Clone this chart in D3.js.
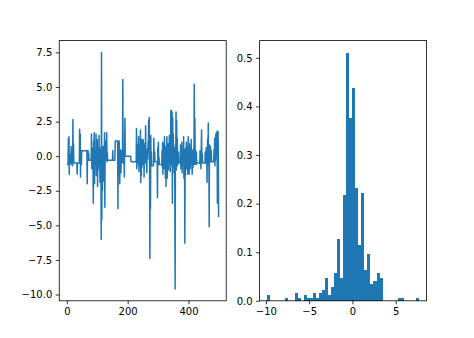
<!DOCTYPE html>
<meta charset="utf-8">
<script src="https://d3js.org/d3.v7.min.js"></script>
<style>
  body { margin: 0; background: #fff; }
  text { font-family: "DejaVu Sans", sans-serif; }
</style>
<div id="chart"></div>
<script>
// left panel: sampled signal, [index, value]
var signal = [
  [0,-0.6],[4,-0.6],[5,1.3],[6,-0.2],[7,1.4],[8,-1.3],[9,0.1],[12,0.1],[13,-0.5],[14,0.7],[15,-0.6],[17,-0.6],
  [18,0.2],[19,-0.7],[20,2.65],[21,-0.2],[22,0.9],[23,-0.5],[33,-0.5],[34,-1.3],[35,-0.5],[41,-0.5],[42,1.95],
  [43,-0.2],[44,1.6],[45,-1.5],[46,0.4],[47,0.4],[48,-0.6],[49,0.4],[66,0.4],[67,-2.0],[68,0.4],[70,0.4],
  [71,-0.3],[72,0.2],[73,-0.3],[80,-0.3],
  [81,1.6],[82,-0.9],[83,0.6],[84,-0.6],[86,-0.6],[87,-3.4],[88,1.1],[89,-0.4],[90,1.7],[91,-2.0],[92,0.3],
  [93,-0.6],[95,-0.6],[96,1.6],[97,-1.4],[98,0.8],[99,-0.5],[100,1.2],[101,-2.2],[102,0.5],[103,-1.0],[104,0.6],
  [105,-0.3],[106,1.5],[107,-0.7],[108,0.3],[109,-1.9],[110,0.5],[111,-0.8],[112,0.6],[113,-6.0],[114,7.5],
  [115,-4.6],[116,0.7],[117,-2.5],[118,0.3],[119,-0.8],[120,0.7],[121,-1.8],[122,0.1],[123,-0.3],[124,1.7],
  [125,-3.7],[126,1.1],[127,-0.3],[128,0.1],[130,0.1],
  [131,1.7],[132,-0.4],[133,0.3],[134,-0.3],[150,-0.3],[151,0.4],[152,-0.3],[158,-0.3],[159,1.1],[167,1.1],
  [168,-3.8],[169,1.1],[172,1.1],[173,-0.3],[174,-2.0],[175,0.5],[176,-0.4],[177,0.2],[178,-1.2],[179,0.4],
  [180,-0.5],[181,0.1],[182,-0.4],[183,0.0],[184,5.55],[185,-0.5],[186,0.3],[187,-0.4],[188,0.2],[189,-1.5],
  [190,0.5],[191,2.75],[192,0.0],[210,0.0],[211,-0.4],[228,-0.4],
  [229,2.0],[230,-0.9],[231,0.3],[232,-0.5],[233,0.8],[234,-0.2],[235,-0.2],[236,1.4],[237,-1.1],[238,0.4],
  [239,-0.7],[240,0.6],[241,-0.4],[242,1.9],[243,-1.9],[244,0.5],[245,-1.4],[246,1.2],[247,-0.8],[248,0.2],
  [249,-0.6],[250,-0.6],[251,1.2],[252,-0.1],[253,0.6],[254,-1.5],[255,0.9],[256,-0.5],[257,0.8],[258,-0.3],
  [259,2.2],[260,-0.5],[261,-0.5],[262,0.4],[263,-1.2],[264,0.5],[265,-0.2],[266,-0.2],[267,1.0],[268,0.6],
  [269,2.6],[270,0.3],[271,2.8],[272,-0.6],[273,-7.4],[274,0.5],[275,-3.8],[276,1.5],[277,-0.7],[278,0.3],
  [279,-0.7],[285,-0.7],[286,1.3],[287,-0.2],[288,0.3],[289,0.3],[290,-0.4],[297,-0.4],[298,-3.0],[299,0.6],
  [300,-0.5],
  [301,1.0],[302,-0.6],[303,-0.1],[304,-0.6],[312,-0.6],[313,0.4],[314,-0.8],[315,1.0],[316,-1.3],[317,0.6],
  [318,-0.3],[319,0.9],[320,-0.9],[321,1.4],[322,-0.5],[323,0.1],[324,-1.6],[325,0.7],[326,-2.2],[327,0.5],
  [328,-0.4],[329,1.4],[330,-1.6],[331,0.4],[332,-0.6],[333,0.9],[334,-1.0],[335,0.2],[336,-0.3],[337,1.5],
  [338,-0.5],[339,0.6],[340,-1.1],[341,0.3],[342,3.3],[343,-0.6],[344,3.3],[345,0.9],[346,3.2],[347,-3.4],
  [348,2.8],[349,0.2],[350,1.6],[351,-0.8],[352,0.4],[353,-1.2],[354,0.6],[355,-2.3],[356,-9.6],[357,0.8],
  [358,-0.3],[359,3.2],[360,-1.0],[361,2.6],[362,0.1],[363,1.3],[364,-0.7],
  [365,0.3],[366,-0.2],[367,0.3],[368,-0.5],[373,-0.5],[374,0.8],[375,-0.9],[376,0.2],[377,-0.5],[378,1.0],
  [379,-1.2],[380,0.3],[381,-0.6],[382,0.5],[383,-0.4],[384,1.4],[385,-1.6],[386,0.3],[387,-0.2],[388,-6.3],
  [389,0.5],[390,-1.4],[391,0.6],[392,-0.3],[393,1.0],[394,-0.9],[395,0.2],[396,-0.5],[397,0.7],[398,-1.3],
  [399,1.4],[400,-0.4],[401,0.2],[402,-1.3],[403,0.9],[404,-0.3],[405,0.6],[406,-0.9],[407,0.1],[408,-0.5],
  [409,1.2],[410,-0.5],[411,0.3],[412,-1.3],[413,-0.5],[414,0.4],[415,-0.8],[416,0.5],[417,-0.3],[418,0.2],
  [419,5.2],[420,-0.6],[421,2.7],[422,-0.4],[423,0.4],[424,-0.6],[425,-0.6],[426,0.3],[427,-0.5],[437,-0.5],
  [438,0.4],[439,-0.6],[440,0.2],[441,-0.9],[442,0.5],[443,1.9],[444,-0.3],[445,0.2],[446,-0.5],[454,-0.5],
  [455,0.3],[456,-0.5],[457,-0.5],[458,0.6],[459,-0.3],[460,0.3],[461,-1.9],[462,0.5],[463,1.3],[464,-0.6],
  [465,2.4],[466,-0.6],[467,0.7],[468,-5.1],[469,0.8],[470,0.6],[471,-0.3],[472,0.7],[473,-0.4],[474,-0.4],
  [475,0.4],[476,-0.4],[483,-0.4],[484,0.5],[485,-0.2],[486,1.3],[487,-0.7],[488,1.0],[489,-0.3],[490,1.6],
  [491,0.4],[492,1.7],[493,0.1],[494,1.8],[495,-3.4],[496,1.2],[497,1.8],[498,0.6],[499,-4.4]
];
var nSamples = 500;

// right panel: 50-bin density histogram of the same signal
var histMin = -9.85, histMax = 7.69;
var histDensity = [
  0.011, 0, 0, 0, 0, 0, 0.0057, 0, 0, 0.017,
  0.0057, 0, 0.011, 0.0057, 0.0057, 0.017, 0.0057, 0.017, 0.023, 0.046,
  0.011, 0.028, 0.057, 0.128, 0.046, 0.217, 0.510, 0.376, 0.438, 0.233,
  0.115, 0.222, 0.063, 0.097, 0.034, 0.040, 0.057, 0.046, 0, 0,
  0, 0, 0, 0.0057, 0.0057, 0, 0, 0, 0, 0.0057
];

var leftTicksX = [0, 200, 400];
var leftTicksY = [-10, -7.5, -5, -2.5, 0, 2.5, 5, 7.5];
var rightTicksX = [-10, -5, 0, 5];
var rightTicksY = [0, 0.1, 0.2, 0.3, 0.4, 0.5];

var W = 474, H = 338;
var color = "#1f77b4";
var plotTop = 40.6, plotBottom = 300.8;
var panels = [[59.25, 226.2], [259.6, 426.6]];

var svg = d3.select("#chart").append("svg")
  .attr("width", W).attr("height", H);

var fmtMinus = function (s) { return s.replace(/-/g, "\u2212"); };

function pad(ext) {
  var r = ext[1] - ext[0];
  return [ext[0] - 0.05 * r, ext[1] + 0.05 * r];
}

function drawAxes(g, x, y, xt, yt, xf, yf, x0, x1) {
  var xa = g.append("g").attr("transform", "translate(0," + plotBottom + ")")
    .call(d3.axisBottom(x).tickValues(xt).tickSize(3.5).tickPadding(3.5).tickFormat(xf));
  var ya = g.append("g").attr("transform", "translate(" + x0 + ",0)")
    .call(d3.axisLeft(y).tickValues(yt).tickSize(3.5).tickPadding(3.5).tickFormat(yf));
  [xa, ya].forEach(function (a) {
    a.select(".domain").remove();
    a.selectAll("line").attr("stroke", "#000").attr("stroke-width", 0.8);
    a.selectAll("text").attr("fill", "#000").style("font-size", "10px");
  });
  g.append("rect")
    .attr("x", x0).attr("y", plotTop)
    .attr("width", x1 - x0).attr("height", plotBottom - plotTop)
    .attr("fill", "none").attr("stroke", "#000").attr("stroke-width", 0.8);
}

// ---- left: line plot
var xL = d3.scaleLinear().domain(pad([0, nSamples - 1])).range(panels[0]);
var yL = d3.scaleLinear().domain(pad(d3.extent(signal, d => d[1]))).range([plotBottom, plotTop]);

var gL = svg.append("g");
gL.append("path")
  .datum(signal)
  .attr("fill", "none")
  .attr("stroke", color)
  .attr("stroke-width", 1.5)
  .attr("stroke-linejoin", "round")
  .attr("d", d3.line().x(d => xL(d[0])).y(d => yL(d[1])));
drawAxes(gL, xL, yL, leftTicksX, leftTicksY,
  d3.format("d"), d => fmtMinus(d3.format(".1f")(d)), panels[0][0], panels[0][1]);

// ---- right: histogram
var binW = (histMax - histMin) / histDensity.length;
var bins = histDensity.map(function (v, i) {
  return { x0: histMin + i * binW, x1: histMin + (i + 1) * binW, v: v };
});
var xR = d3.scaleLinear().domain(pad([histMin, histMax])).range(panels[1]);
var yR = d3.scaleLinear().domain([0, d3.max(histDensity) * 1.05]).range([plotBottom, plotTop]);

var gR = svg.append("g").attr("shape-rendering", "crispEdges");
gR.selectAll("rect.bar")
  .data(bins.filter(b => b.v > 0))
  .enter().append("rect")
  .attr("class", "bar")
  .attr("x", d => xR(d.x0))
  .attr("width", d => xR(d.x1) - xR(d.x0))
  .attr("y", d => yR(d.v))
  .attr("height", d => yR(0) - yR(d.v))
  .attr("fill", color);
var gRa = svg.append("g");
drawAxes(gRa, xR, yR, rightTicksX, rightTicksY,
  d => fmtMinus(d3.format("d")(d)), d => d3.format(".1f")(d), panels[1][0], panels[1][1]);
</script>
